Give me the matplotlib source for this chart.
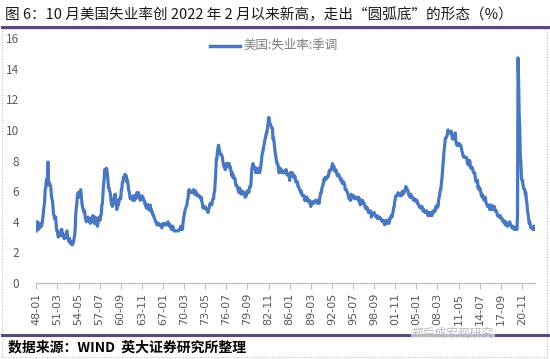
import matplotlib
matplotlib.use("Agg")
import matplotlib.pyplot as plt
from matplotlib.lines import Line2D
from matplotlib.patches import Rectangle
import pandas as pd

plt.rcParams['font.family'] = ['Noto Sans CJK SC', 'DejaVu Sans']

title = "图 6：10 月美国失业率创 2022 年 2 月以来新高，走出“圆弧底”的形态（%）"
series_name = "美国:失业率:季调"
source = "数据来源：WIND  英大证券研究所整理"
watermark = "郑后成宏观研究"

start_month = "1948-01"
unemployment_rate = [
    3.4, 3.8, 4.0, 3.9, 3.5, 3.6, 3.6, 3.9, 3.8, 3.7, 3.8, 4.0,
    4.3, 4.7, 5.0, 5.3, 6.1, 6.2, 6.7, 6.8, 6.6, 7.9, 6.4, 6.6,
    6.5, 6.4, 6.3, 5.8, 5.5, 5.4, 5.0, 4.5, 4.4, 4.2, 4.2, 4.3,
    3.7, 3.4, 3.4, 3.1, 3.0, 3.2, 3.1, 3.1, 3.3, 3.5, 3.5, 3.1,
    3.2, 3.1, 2.9, 2.9, 3.0, 3.0, 3.2, 3.4, 3.1, 3.0, 2.8, 2.7,
    2.9, 2.6, 2.6, 2.7, 2.5, 2.5, 2.6, 2.7, 2.9, 3.1, 3.5, 4.5,
    4.9, 5.2, 5.7, 5.9, 5.9, 5.6, 5.8, 6.0, 6.1, 5.7, 5.3, 5.0,
    4.9, 4.7, 4.6, 4.7, 4.3, 4.2, 4.0, 4.2, 4.1, 4.3, 4.2, 4.2,
    4.0, 3.9, 4.2, 4.0, 4.3, 4.3, 4.4, 4.1, 3.9, 3.9, 4.3, 4.2,
    4.2, 3.9, 3.7, 3.9, 4.1, 4.3, 4.2, 4.1, 4.4, 4.5, 5.1, 5.2,
    5.8, 6.4, 6.7, 7.4, 7.4, 7.3, 7.5, 7.4, 7.1, 6.7, 6.2, 6.2,
    6.0, 5.9, 5.6, 5.2, 5.1, 5.0, 5.1, 5.2, 5.5, 5.7, 5.8, 5.3,
    5.2, 4.8, 5.4, 5.2, 5.1, 5.4, 5.5, 5.6, 5.5, 6.1, 6.1, 6.6,
    6.6, 6.9, 6.9, 7.0, 7.1, 6.9, 7.0, 6.6, 6.7, 6.5, 6.1, 6.0,
    5.8, 5.5, 5.6, 5.6, 5.5, 5.5, 5.4, 5.7, 5.6, 5.4, 5.7, 5.5,
    5.7, 5.9, 5.7, 5.7, 5.9, 5.6, 5.6, 5.4, 5.5, 5.5, 5.7, 5.5,
    5.6, 5.4, 5.4, 5.3, 5.1, 5.2, 4.9, 5.0, 5.1, 5.1, 4.8, 5.0,
    4.9, 5.1, 4.7, 4.8, 4.6, 4.6, 4.4, 4.4, 4.3, 4.2, 4.1, 4.0,
    4.0, 3.8, 3.8, 3.8, 3.9, 3.8, 3.8, 3.8, 3.7, 3.7, 3.6, 3.8,
    3.9, 3.8, 3.8, 3.8, 3.8, 3.9, 3.8, 3.8, 3.8, 4.0, 3.9, 3.8,
    3.7, 3.8, 3.7, 3.5, 3.5, 3.7, 3.7, 3.5, 3.4, 3.4, 3.4, 3.4,
    3.4, 3.4, 3.4, 3.4, 3.4, 3.5, 3.5, 3.5, 3.7, 3.7, 3.5, 3.5,
    3.9, 4.2, 4.4, 4.6, 4.8, 4.9, 5.0, 5.1, 5.4, 5.5, 5.9, 6.1,
    5.9, 5.9, 6.0, 5.9, 5.9, 5.9, 6.0, 6.1, 6.0, 5.8, 6.0, 6.0,
    5.8, 5.7, 5.8, 5.7, 5.7, 5.7, 5.6, 5.6, 5.5, 5.6, 5.3, 5.2,
    4.9, 5.0, 4.9, 5.0, 4.9, 4.9, 4.8, 4.8, 4.8, 4.6, 4.8, 4.9,
    5.1, 5.2, 5.1, 5.1, 5.1, 5.4, 5.5, 5.5, 5.9, 6.0, 6.6, 7.2,
    8.1, 8.1, 8.6, 8.8, 9.0, 8.8, 8.6, 8.4, 8.4, 8.4, 8.3, 8.2,
    7.9, 7.7, 7.6, 7.7, 7.4, 7.6, 7.8, 7.8, 7.6, 7.7, 7.8, 7.8,
    7.5, 7.6, 7.4, 7.2, 7.0, 7.2, 6.9, 7.0, 6.8, 6.8, 6.8, 6.4,
    6.4, 6.3, 6.3, 6.1, 6.0, 5.9, 6.2, 5.9, 6.0, 5.8, 5.9, 6.0,
    5.9, 5.9, 5.8, 5.8, 5.6, 5.7, 5.7, 6.0, 5.9, 6.0, 5.9, 6.0,
    6.3, 6.3, 6.3, 6.9, 7.5, 7.6, 7.8, 7.7, 7.5, 7.5, 7.5, 7.2,
    7.5, 7.4, 7.4, 7.2, 7.5, 7.5, 7.2, 7.4, 7.6, 7.9, 8.3, 8.5,
    8.6, 8.9, 9.0, 9.3, 9.4, 9.6, 9.8, 9.8, 10.1, 10.4, 10.8, 10.8,
    10.4, 10.4, 10.3, 10.2, 10.1, 10.1, 9.4, 9.5, 9.2, 8.8, 8.5, 8.3,
    8.0, 7.8, 7.8, 7.7, 7.4, 7.2, 7.5, 7.5, 7.3, 7.4, 7.2, 7.3,
    7.3, 7.2, 7.2, 7.3, 7.2, 7.4, 7.4, 7.1, 7.1, 7.1, 7.0, 7.0,
    6.7, 7.2, 7.2, 7.1, 7.2, 7.2, 7.0, 6.9, 7.0, 7.0, 6.9, 6.6,
    6.6, 6.6, 6.6, 6.3, 6.3, 6.2, 6.1, 6.0, 5.9, 6.0, 5.8, 5.7,
    5.7, 5.7, 5.7, 5.4, 5.6, 5.4, 5.4, 5.6, 5.4, 5.4, 5.3, 5.3,
    5.4, 5.2, 5.0, 5.2, 5.2, 5.3, 5.2, 5.2, 5.3, 5.3, 5.4, 5.4,
    5.4, 5.3, 5.2, 5.4, 5.4, 5.2, 5.5, 5.7, 5.9, 5.9, 6.2, 6.3,
    6.4, 6.6, 6.8, 6.7, 6.9, 6.9, 6.8, 6.9, 6.9, 7.0, 7.0, 7.3,
    7.3, 7.4, 7.4, 7.4, 7.6, 7.8, 7.7, 7.6, 7.6, 7.3, 7.4, 7.4,
    7.3, 7.1, 7.0, 7.1, 7.1, 7.0, 6.9, 6.8, 6.7, 6.8, 6.6, 6.5,
    6.6, 6.6, 6.5, 6.4, 6.1, 6.1, 6.1, 6.0, 5.9, 5.8, 5.6, 5.5,
    5.6, 5.4, 5.4, 5.8, 5.6, 5.6, 5.7, 5.7, 5.6, 5.5, 5.6, 5.6,
    5.6, 5.5, 5.5, 5.6, 5.6, 5.3, 5.5, 5.1, 5.2, 5.2, 5.4, 5.4,
    5.3, 5.2, 5.2, 5.1, 4.9, 5.0, 4.9, 4.8, 4.9, 4.7, 4.6, 4.7,
    4.6, 4.6, 4.7, 4.3, 4.4, 4.5, 4.5, 4.5, 4.6, 4.5, 4.4, 4.4,
    4.3, 4.4, 4.2, 4.3, 4.2, 4.3, 4.3, 4.2, 4.2, 4.1, 4.1, 4.0,
    4.0, 4.1, 4.0, 3.8, 4.0, 4.0, 4.0, 4.1, 3.9, 3.9, 3.9, 3.9,
    4.2, 4.2, 4.3, 4.4, 4.3, 4.5, 4.6, 4.9, 5.0, 5.3, 5.5, 5.7,
    5.7, 5.7, 5.7, 5.9, 5.8, 5.8, 5.8, 5.7, 5.7, 5.7, 5.9, 6.0,
    5.8, 5.9, 5.9, 6.0, 6.1, 6.3, 6.2, 6.1, 6.1, 6.0, 5.8, 5.7,
    5.7, 5.6, 5.8, 5.6, 5.6, 5.6, 5.5, 5.4, 5.4, 5.5, 5.4, 5.4,
    5.3, 5.4, 5.2, 5.2, 5.1, 5.0, 5.0, 4.9, 5.0, 5.0, 5.0, 4.9,
    4.7, 4.8, 4.7, 4.7, 4.6, 4.6, 4.7, 4.7, 4.5, 4.4, 4.5, 4.4,
    4.6, 4.5, 4.4, 4.5, 4.4, 4.6, 4.7, 4.6, 4.7, 4.7, 4.7, 5.0,
    5.0, 4.9, 5.1, 5.0, 5.4, 5.6, 5.8, 6.1, 6.1, 6.5, 6.8, 7.3,
    7.8, 8.3, 8.7, 9.0, 9.4, 9.5, 9.5, 9.6, 9.8, 10.0, 9.9, 9.9,
    9.8, 9.8, 9.9, 9.9, 9.6, 9.4, 9.4, 9.5, 9.5, 9.4, 9.8, 9.3,
    9.1, 9.0, 9.0, 9.1, 9.0, 9.1, 9.0, 9.0, 9.0, 8.8, 8.6, 8.5,
    8.3, 8.3, 8.2, 8.2, 8.2, 8.2, 8.2, 8.1, 7.8, 7.8, 7.7, 7.9,
    8.0, 7.7, 7.5, 7.6, 7.5, 7.5, 7.3, 7.2, 7.2, 7.2, 6.9, 6.7,
    6.6, 6.7, 6.7, 6.2, 6.3, 6.1, 6.2, 6.1, 5.9, 5.7, 5.8, 5.6,
    5.7, 5.5, 5.4, 5.4, 5.6, 5.3, 5.2, 5.1, 5.0, 5.0, 5.1, 5.0,
    4.8, 4.9, 5.0, 5.1, 4.8, 4.9, 4.8, 4.9, 5.0, 4.9, 4.7, 4.7,
    4.7, 4.6, 4.4, 4.4, 4.4, 4.3, 4.3, 4.4, 4.3, 4.2, 4.2, 4.1,
    4.0, 4.1, 4.0, 4.0, 3.8, 4.0, 3.8, 3.8, 3.7, 3.8, 3.8, 3.9,
    4.0, 3.8, 3.8, 3.7, 3.6, 3.6, 3.7, 3.6, 3.5, 3.6, 3.6, 3.6,
    3.5, 3.5, 4.4, 14.7, 13.2, 11.0, 10.2, 8.4, 7.9, 6.9, 6.7, 6.7,
    6.4, 6.2, 6.1, 6.1, 5.8, 5.9, 5.4, 5.2, 4.7, 4.5, 4.2, 3.9,
    4.0, 3.8, 3.6, 3.6, 3.6, 3.6, 3.5, 3.7, 3.5, 3.7,
]
tick_step = 38
y_ticks = [0, 2, 4, 6, 8, 10, 12, 14, 16]

months = pd.period_range(start=start_month, periods=len(unemployment_rate), freq="M")
month_labels = [m.strftime("%y-%m") for m in months]
x = list(range(len(unemployment_rate)))

fig = plt.figure(figsize=(5.5, 3.59), dpi=100)
W, H = 550, 359

def fx(px):
    return px / W

def fy(py):
    return 1 - py / H

# Title and rules
fig.text(fx(5), fy(15), title, fontsize=10.5, color="#1a1a1a", va="center", ha="left")
fig.add_artist(Line2D([fx(2), fx(548)], [fy(26.5), fy(26.5)], color="#5a4a7a", lw=2.2))
fig.add_artist(Line2D([fx(2), fx(548)], [fy(334.5), fy(334.5)], color="#5a4a7a", lw=2.2))

# Dotted border
fig.add_artist(Rectangle((fx(2), fy(357)), fx(545), fy(29) - fy(357), fill=False,
                         edgecolor="#bfbfbf", lw=0.8, linestyle=(0, (1, 1.5))))

ax = fig.add_axes([fx(36), fy(283), fx(535 - 36), fy(38) - fy(283)])
ax.plot(x, unemployment_rate, color="#4a78c0", lw=2.3, solid_joinstyle="round")
ax.set_ylim(0, 16)
ax.set_xlim(-0.5, len(x) - 0.5)
ax.set_yticks(y_ticks)
ax.set_yticklabels([str(v) for v in y_ticks], fontsize=8.5, color="#595959")
tick_pos = list(range(0, len(x), tick_step))
ax.set_xticks(tick_pos)
ax.set_xticklabels([month_labels[i] for i in tick_pos], rotation=90, fontsize=8, color="#595959",
                   family=["DejaVu Sans"])
for s in ["top", "right", "left"]:
    ax.spines[s].set_visible(False)
ax.spines["bottom"].set_color("#bfbfbf")
ax.spines["bottom"].set_linewidth(0.9)
ax.tick_params(axis="y", length=0, pad=12)
ax.tick_params(axis="x", length=4, color="#bfbfbf", pad=3)

# Legend
fig.add_artist(Line2D([fx(210), fx(240)], [fy(45.5), fy(45.5)], color="#4a78c0", lw=2.5))
fig.text(fx(243), fy(45.5), series_name, fontsize=9, color="#7f7f7f", va="center", ha="left")

# Source
fig.text(fx(8), fy(347), source, fontsize=10, fontweight="bold", color="#000000", va="center", ha="left")
fig.text(fx(412), fy(333), watermark, fontsize=8.5, color="#b8b8b8", va="center", ha="left",
         bbox=dict(boxstyle="square,pad=0.05", fc="white", ec="none", alpha=0.6))

fig.savefig("out.png", dpi=100)
